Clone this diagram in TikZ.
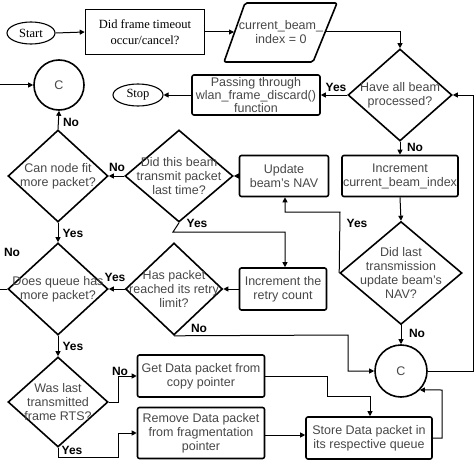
\documentclass[tikz,border=0pt]{standalone}
\usepackage{fontspec}
\setmainfont{Liberation Serif}
\setsansfont{Liberation Sans}
\usetikzlibrary{shapes.geometric,arrows.meta}
\begin{document}
\begin{tikzpicture}[x=1pt,y=-1pt,
  sans/.style={font=\sffamily\fontsize{12.5}{14}\selectfont, text=black!72},
  serif/.style={font=\rmfamily\fontsize{12.5}{16}\selectfont, text=black},
  pbox/.style={draw, line width=1.6pt, rounded corners=2pt, inner sep=0pt, align=center, sans},
  sbox/.style={draw, line width=1.6pt, inner sep=0pt, align=center, serif},
  ell/.style={draw, ellipse, line width=1.1pt, inner sep=0pt, serif},
  dia/.style={draw, diamond, line width=1.6pt, inner sep=0pt},
  dtxt/.style={sans, align=center, inner sep=0pt},
  conn/.style={draw, circle, line width=1.6pt, inner sep=0pt, sans},
  arr/.style={-{Triangle[length=5pt,width=5pt]}, line width=1pt},
  ln/.style={line width=1pt},
  lab/.style={font=\sffamily\bfseries\fontsize{12}{14}\selectfont, inner sep=0pt}
]
\useasboundingbox (0,0) rectangle (474,460);

% nodes
\node[ell, minimum width=48pt, minimum height=22pt] (start) at (31,33) {Start};
\node[sbox, minimum width=119pt, minimum height=45pt] (q1) at (145,32) {Did frame timeout\\occur/cancel?};
\coordinate (pa) at (224,62);
\coordinate (pbb) at (313,62);
\coordinate (pc) at (337,3);
\coordinate (pd) at (245,3);
\draw[line width=1.6pt, rounded corners=2pt] (pa) -- (pbb) -- (pc) -- (pd) -- cycle;
\node[dtxt] (pbt) at (281,32) {current\_beam\_\\index = 0};
\coordinate (pl) at (234,32);
\coordinate (pr) at (325,32);

\node[dia, minimum width=104pt, minimum height=92pt, label={[dtxt]center:Have all beam\\processed?}] (d1) at (400,95) {};
\node[pbox, minimum width=128pt, minimum height=40pt, font=\sffamily\fontsize{12.5}{13}\selectfont] (pass) at (256,95) {Passing through\\wlan\_frame\_discard()\\function};
\node[ell, minimum width=50pt, minimum height=22pt] (stop) at (138,95) {Stop};
\node[conn, minimum size=50pt] (c1) at (59,85) {C};
\coordinate (cin) at (0,85);

\node[dia, minimum width=100pt, minimum height=92pt, label={[dtxt]center:Can node fit\\more packet?}] (d2) at (58,176) {};
\node[dia, minimum width=108pt, minimum height=92pt, label={[dtxt]center:Did this beam\\transmit packet\\last time?}] (d3) at (179,176) {};
\node[pbox, minimum width=89pt, minimum height=41pt] (nav) at (284,176) {Update\\beam's NAV};
\node[pbox, minimum width=116pt, minimum height=41pt] (inc) at (400,176) {Increment\\current\_beam\_index};
\node[dia, minimum width=122pt, minimum height=103pt, label={[dtxt]center:Did last\\transmission\\update beam's\\NAV?}] (d4) at (401,273) {};
\node[pbox, minimum width=87pt, minimum height=42pt] (retry) at (283,289) {Increment the\\retry count};
\node[dia, minimum width=97pt, minimum height=92pt, label={[dtxt]center:Has packet\\reached its retry\\limit?}] (d5) at (174,289) {};
\node[dia, minimum width=100pt, minimum height=92pt, label={[dtxt]center:Does queue has\\more packet?}] (d6) at (58,289) {};
\coordinate (qout) at (0,289);
\node[conn, minimum size=52pt] (c2) at (401,371) {C};
\node[dia, minimum width=100pt, minimum height=90pt, label={[dtxt]center:Was last\\transmitted\\frame RTS?}] (d7) at (58,402) {};
\node[pbox, minimum width=127pt, minimum height=42pt] (get) at (201,376) {Get Data packet from\\copy pointer};
\node[pbox, minimum width=127pt, minimum height=51pt] (rem) at (201,433) {Remove Data packet\\from fragmentation\\pointer};
\node[pbox, minimum width=126pt, minimum height=42pt] (store) at (369,438) {Store Data packet in\\its respective queue};

% connectors
\draw[arr] (start.east) -- (q1.west);
\draw[arr] (q1.east) -- (pl);
\draw[arr] (pr) -- (400,32) -- (d1.north);
\draw[arr] (d1.west) -- (pass.east);
\draw[arr] (pass.west) -- (stop.east);
\draw[arr] (cin) -- (c1.west);
\draw[arr] (d2.north) -- (c1.south);
\draw[arr] (d3.west) -- (d2.east);
\draw[arr] (nav.west) -- (d3.east);
\draw[arr] (d1.south) -- (inc.north);
\draw[arr] (inc.south) -- (d4.north);
\draw[arr] (d4.west) -- (340,212) -- (285,212) -- (nav.south -| 285,0);
\draw[arr] (d3.south) -- (173,232) -- (285,232) -- (retry.north -| 285,0);
\draw[arr] (retry.west) -- (d5.east);
\draw[arr] (d5.west) -- (d6.east);
\draw[ln] (d6.west) -- (qout);
\draw[arr] (d2.south) -- (d6.north);
\draw[arr] (d5.south) -- (348,335) -- (348,371) -- (c2.west);
\draw[arr] (d4.south) -- (c2.north);
\draw[arr] (c2.east) -- (473,371) -- (473,95) -- (d1.east);
\draw[arr] (d6.south) -- (d7.north);
\draw[arr] (d7.east) -- (118,402) -- (118,376) -- (get.west);
\draw[arr] (d7.south) -- (58,457) -- (118,457) -- (118,433) -- (rem.west);
\draw[arr] (get.east) -- (327,376) -- (327,396) -- (370,396) -- (store.north -| 370,0);
\draw[arr] (rem.east |- 0,435) -- (store.west |- 0,435);
\draw[arr] (store.east) -- (442,438) -- (442,390) -- (c2.south east);

% labels
\node[lab] (l1) at (336,87) {Yes};
\node[lab] (l2) at (71,122) {No};
\node[lab] (l3) at (117,167) {No};
\node[lab] (l4) at (415,147) {No};
\node[lab] (l5) at (357,223) {Yes};
\node[lab] (l6) at (197,223) {Yes};
\node[lab] (l7) at (73,233) {Yes};
\node[lab] (l8) at (115,277) {Yes};
\node[lab] (l9) at (12,252) {No};
\node[lab] (l10) at (199,328) {No};
\node[lab] (l11) at (417,333) {No};
\node[lab] (l12) at (73,346) {Yes};
\node[lab] (l13) at (120,371) {No};
\node[lab] (l14) at (72,450) {Yes};
\end{tikzpicture}
\end{document}
